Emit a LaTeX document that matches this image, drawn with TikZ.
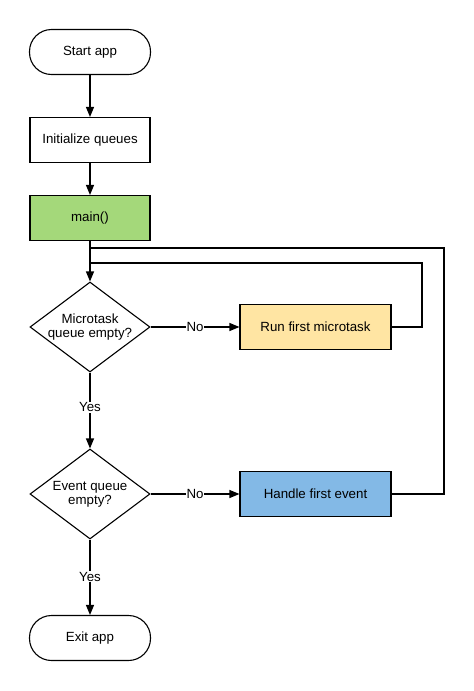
\documentclass[tikz,border=0pt]{standalone}
\usepackage{fontspec}
\setmainfont{Liberation Sans}
\usetikzlibrary{shapes.geometric,arrows.meta}
\definecolor{cgreen}{RGB}{164,216,122}
\definecolor{cyellow}{RGB}{255,229,163}
\definecolor{cblue}{RGB}{131,185,230}
\begin{document}
\begin{tikzpicture}[x=1pt,y=-1pt,
  every node/.style={font=\fontsize{13.3}{15}\selectfont},
  term/.style={draw,line width=1.1pt,rounded corners=22pt,minimum width=121pt,minimum height=45pt,inner sep=0pt},
  proc/.style={draw,line width=1.1pt,minimum width=120pt,minimum height=45pt,inner sep=0pt},
  dec/.style={draw,line width=1.1pt,diamond,minimum width=120pt,minimum height=90pt,inner sep=0pt,align=center,aspect=1.333},
  conn/.style={line width=1.1pt},
  arr/.style={conn,-{Triangle[length=10pt,width=8pt]}},
  lbl/.style={fill=white,inner sep=0.5pt}]
\useasboundingbox (0,0) rectangle (474,691);
\node[term] (start) at (90,52) {Start app};
\node[proc] (init) at (90,140) {Initialize queues};
\node[proc,fill=cgreen] (main) at (90,218) {main()};
\node[dec] (micro) at (90,327) {Microtask\\[-1pt]queue empty?};
\node[proc,fill=cyellow,minimum width=151pt] (run) at (315.5,327) {Run first microtask};
\node[dec] (event) at (90,494) {Event queue\\[-1pt]empty?};
\node[proc,fill=cblue,minimum width=151pt] (handle) at (315.5,494) {Handle first event};
\node[term] (exit) at (90,638) {Exit app};
\coordinate (j1) at (90,248);
\coordinate (j2) at (90,263);
\draw[arr] (start) -- (init);
\draw[arr] (init) -- (main);
\draw[arr] (main) -- (micro);
\draw[arr] (micro) -- node[lbl,pos=0.5]{No} (run);
\draw[arr] (event) -- node[lbl,pos=0.5]{No} (handle);
\draw[conn] (run.east) -- (422,327) -- (422,263) -- (j2);
\draw[conn] (handle.east) -- (444,494) -- (444,248) -- (j1);
\draw[arr] (micro) -- node[lbl,pos=0.46]{Yes} (event);
\draw[arr] (event) -- node[lbl,pos=0.49]{Yes} (exit);
\end{tikzpicture}
\end{document}
